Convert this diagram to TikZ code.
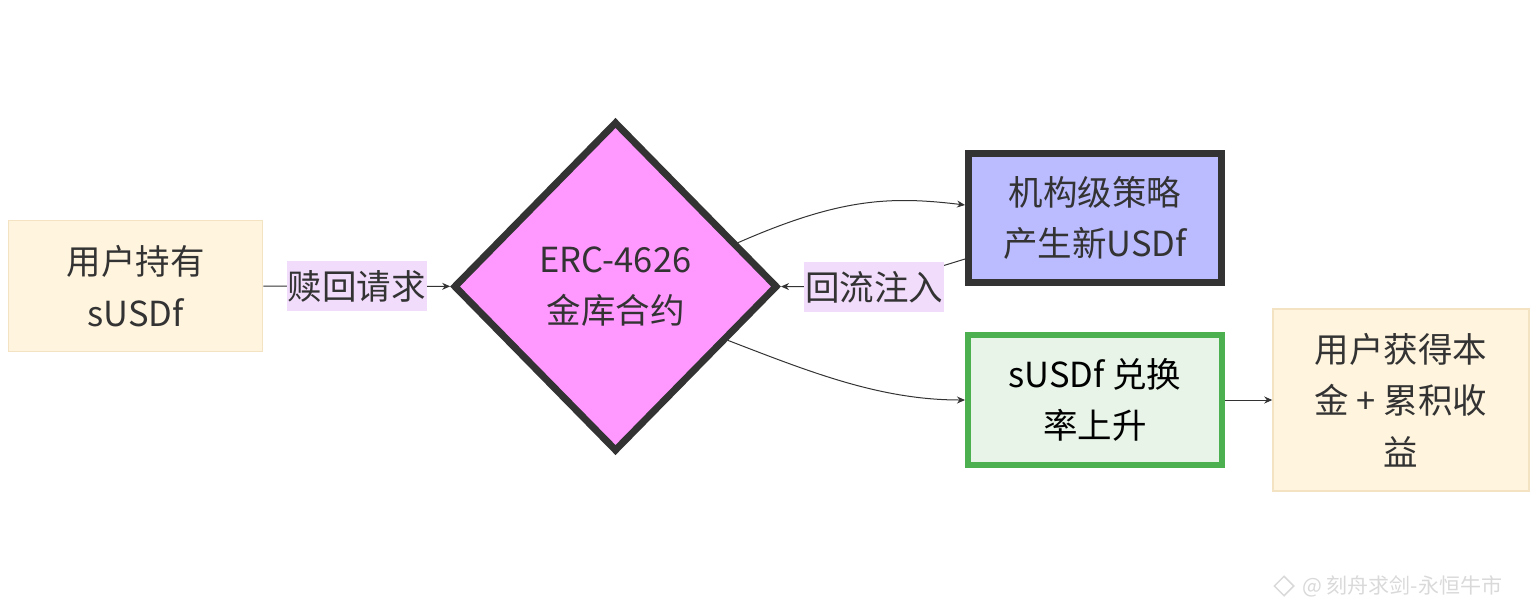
\documentclass[tikz,border=0pt]{standalone}
\usepackage{fontspec}
\newfontfamily\cjk{Noto Sans CJK SC}
\usetikzlibrary{shapes.geometric,arrows.meta,calc}
\definecolor{cream}{HTML}{FFF4DE}
\definecolor{creamline}{HTML}{F3E3C3}
\definecolor{lav}{HTML}{F2DCFC}
\definecolor{pinkfill}{HTML}{FF99FF}
\definecolor{dark}{HTML}{333333}
\definecolor{purplefill}{HTML}{BBBBFF}
\definecolor{greenfill}{HTML}{E7F4E7}
\definecolor{greenline}{HTML}{4CAF50}
\tikzset{
  base/.style={font=\cjk\fontsize{34.5}{51.5}\selectfont, text=dark, align=center, inner sep=0pt},
  creambox/.style={base, rectangle, fill=cream, draw=creamline, line width=1.5pt},
  lbl/.style={base, fill=lav, minimum height=50pt, inner xsep=1pt},
  arr/.style={draw=dark, line width=1pt, -{Stealth[length=8pt,width=7pt]}},
  plain/.style={draw=dark, line width=1pt},
}
\begin{document}
\begin{tikzpicture}[x=1pt,y=-1pt]
\useasboundingbox (0,0) rectangle (1536,614);
% nodes
\node[creambox, minimum width=254pt, minimum height=131pt] (hold) at (135.5,286) {用户持有\\sUSDf};
\node[base, diamond, fill=pinkfill, draw=dark, line width=7pt, minimum width=324pt, minimum height=330pt] (dia) at (615.5,286.5) {ERC-4626\\金库合约};
\node[base, rectangle, fill=purplefill, draw=dark, line width=7pt, minimum width=253pt, minimum height=129pt] (strat) at (1095,218) {机构级策略\\产生新USDf};
\node[base, rectangle, fill=greenfill, draw=greenline, line width=6pt, minimum width=254pt, minimum height=130pt, text=black] (rate) at (1095,400) {sUSDf 兑换\\率上升};
\node[creambox, minimum width=256pt, minimum height=182pt] (gain) at (1401,400) {用户获得本\\金 + 累积收\\益};
% connectors
\coordinate (d1) at ($(dia.north)!0.74!(dia.east)$);
\coordinate (d2) at ($(dia.south)!0.68!(dia.east)$);
\draw[arr] (hold) -- node[lbl] (lreq) {赎回请求} (dia);
\draw[arr] (d1) .. controls (840,198) and (890,196) .. ([yshift=13pt]strat.west);
\node[lbl] (lback) at (874,287) {回流注入};
\draw[plain] ([yshift=-41pt]strat.west) -- (lback);
\draw[arr] (lback) -- (dia.east);
\draw[arr] (d2) .. controls (810,372) and (880,400) .. (rate.west);
\draw[arr] (rate) -- (gain);
% watermark
\node[font=\cjk\fontsize{21}{24}\selectfont, text=black!15, anchor=west, inner sep=0pt] (wm) at (1302,586) {@ 刻舟求剑-永恒牛市};
\node[draw=black!15, line width=1.5pt, diamond, minimum width=20pt, minimum height=20pt, inner sep=0pt] (logo) at (1284,586) {};
\end{tikzpicture}
\end{document}
